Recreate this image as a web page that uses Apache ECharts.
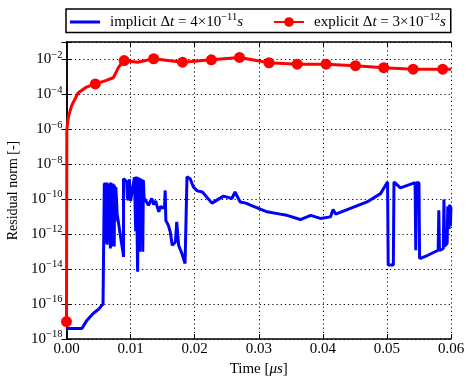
<!DOCTYPE html>
<html><head><meta charset="utf-8">
<script src="https://cdn.jsdelivr.net/npm/echarts@6/dist/echarts.min.js"></script>
<style>html,body{margin:0;padding:0;background:#fff}#c{width:474px;height:387px}</style>
</head><body><div id="c"></div>
<script>
// implicit scheme (dt = 4e-11 s): time [us] and residual norm
const implicitT = [0, 0.0024, 0.0032, 0.0042, 0.0050, 0.0057,
  0.0059, 0.00595, 0.0060, 0.00605, 0.0061, 0.00615, 0.0062, 0.00625, 0.0063, 0.00635,
  0.0064, 0.00645, 0.0065, 0.00655, 0.0066, 0.00665, 0.0067, 0.00675, 0.0068, 0.00685,
  0.0069, 0.00695, 0.0070, 0.00705, 0.0071, 0.00715, 0.0072, 0.00725, 0.0073, 0.00735,
  0.0074, 0.00745, 0.0075, 0.00755, 0.0076, 0.00765, 0.0077,
  0.0079, 0.0085, 0.0088, 0.0089,
  0.0089, 0.0092, 0.0094, 0.0095, 0.0097, 0.0098, 0.0099, 0.0100, 0.0103,
  0.0106, 0.0108, 0.0109, 0.0111, 0.0112, 0.0114, 0.0115, 0.0117, 0.0118, 0.0119, 0.0120, 0.0121,
  0.0123, 0.0128, 0.0133, 0.0136, 0.0139, 0.0141, 0.0144, 0.0147, 0.0150, 0.0153, 0.0154, 0.0155,
  0.0159, 0.0162, 0.0165, 0.0170, 0.0172, 0.0175, 0.0180, 0.0185, 0.0187,
  0.0188, 0.0193, 0.0198, 0.0204, 0.0212, 0.0227, 0.0245, 0.0258, 0.0263, 0.0271, 0.0280, 0.0287,
  0.0313, 0.0329, 0.0344, 0.0365, 0.0381, 0.0396, 0.0412, 0.0416, 0.0420, 0.0443, 0.0469, 0.0490,
  0.0501, 0.0502, 0.0510, 0.0511, 0.0521, 0.0544, 0.0545, 0.0546, 0.0550, 0.0551, 0.0563, 0.0580,
  0.0581, 0.0582, 0.0588, 0.0589, 0.0590, 0.0594, 0.0595, 0.0597, 0.0598, 0.0599, 0.0600];
const implicitV = [4e-18, 4e-18, 1.2e-17, 3e-17, 5e-17, 1e-16,
  8e-10, 3e-13, 9e-10, 2e-12, 7e-10, 6e-13, 8e-10, 1e-12, 9e-10, 2.5e-13,
  7e-10, 1.5e-12, 8e-10, 4e-13, 6e-10, 3e-12, 8e-10, 2e-12, 7e-10, 1.5e-13,
  9e-10, 1e-12, 8e-10, 2e-13, 7e-10, 2e-12, 8e-10, 8e-13, 6e-10, 3e-12,
  7e-10, 2e-13, 6e-10, 5e-12, 5e-10, 1e-11, 5e-10,
  1.5e-11, 5e-13, 1e-13, 5e-14,
  1.5e-9, 1.3e-9, 1e-9, 1.2e-10, 9e-11, 1.4e-9, 1.2e-9, 8e-11, 7e-11,
  1.8e-9, 1.5e-12, 2e-9, 7e-15, 1.8e-9, 1e-13, 1.6e-9, 1e-12, 1.4e-9, 1e-13, 1.2e-9, 1.2e-10,
  1.1e-10, 4.5e-11, 1.1e-10, 5e-11, 8e-11, 7e-11, 1.9e-11, 4e-11, 3e-11, 4e-11, 3.2e-10, 6e-12,
  3.2e-12, 1.3e-12, 2.3e-13, 3.6e-13, 5e-12, 2.3e-13, 8e-14, 2.1e-14, 2.1e-14,
  1.9e-9, 1.5e-9, 5e-10, 3e-10, 2.6e-10, 6e-11, 1.5e-10, 1.1e-10, 2.6e-10, 7e-11, 6e-11, 4.6e-11,
  1.9e-11, 1.5e-11, 1.2e-11, 6.9e-12, 1.2e-11, 8e-12, 9.8e-12, 2.6e-11, 1.4e-11, 3e-11, 7e-11, 2.1e-10,
  9.8e-10, 1.7e-14, 1.7e-14, 9.8e-10, 4.5e-10, 8.9e-10, 1.2e-13, 8.9e-10, 8.9e-10, 4e-14, 6e-14, 1.2e-13,
  2.3e-11, 1.2e-13, 1.5e-13, 9.5e-11, 2e-13, 3e-13, 4e-11, 2e-12, 5e-11, 3e-12, 3.5e-11];

// explicit scheme (dt = 3e-12 s)
const explicitT = [0, 0.00005, 0.0003, 0.0008, 0.0018, 0.0030, 0.0045, 0.0060, 0.0073, 0.0082, 0.0090,
  0.0111, 0.0136, 0.0181, 0.0226, 0.0270, 0.0316, 0.0360, 0.0405, 0.0451, 0.0495, 0.0541, 0.0587, 0.0600];
const explicitV = [1e-17, 1e-6, 5e-6, 2.3e-5, 1.2e-4, 2.5e-4, 4e-4, 6e-4, 9e-4, 4e-3, 8.7e-3,
  7e-3, 1.1e-2, 7e-3, 9.6e-3, 1.3e-2, 6.5e-3, 5.4e-3, 5.4e-3, 4.4e-3, 3.4e-3, 2.8e-3, 2.8e-3, 2.8e-3];
const explicitMarkerT = [0, 0.0045, 0.0090, 0.0136, 0.0181, 0.0226, 0.0270, 0.0316, 0.0360, 0.0405, 0.0451, 0.0495, 0.0541, 0.0587];

const xTickLabels = ['0.00', '0.01', '0.02', '0.03', '0.04', '0.05', '0.06'];
const yTickExponents = [-18, -16, -14, -12, -10, -8, -6, -4, -2];

const FONT = 'Liberation Serif';
const rich = {
  b: {fontFamily: FONT, fontSize: 15, color: '#000', lineHeight: 20},
  i: {fontFamily: FONT, fontSize: 15, fontStyle: 'italic', color: '#000', lineHeight: 20},
  s: {fontFamily: FONT, fontSize: 10.5, color: '#000', lineHeight: 10, verticalAlign: 'top'}
};
const legendText = {
  implicit: '{b|implicit Δ}{i|t}{b| = 4×10}{s|−11}{i|s}',
  explicit: '{b|explicit Δ}{i|t}{b| = 3×10}{s|−12}{i|s}'
};

const chart = echarts.init(document.getElementById('c'), null, {renderer: 'canvas'});
const axisLine = {show: true, lineStyle: {color: '#000', width: 1.5}};
const tick = {show: true, inside: true, length: 5, lineStyle: {color: '#000', width: 1}};
const grid = {type: [1.2, 3], color: '#000', width: 1};

chart.setOption({
  animation: false,
  backgroundColor: '#fff',
  grid: {left: 66.5, right: 23, top: 42, bottom: 48, outerBoundsMode: 'none'},
  legend: {
    left: 66, top: 9,
    padding: [3, 5, 3, 4],
    itemWidth: 30, itemHeight: 12, itemGap: 30,
    borderColor: '#000', borderWidth: 1.5, borderRadius: 0,
    data: [{name: 'implicit', icon: 'path://M0,0H30V3H0Z'}, {name: 'explicit'}],
    formatter: n => legendText[n],
    textStyle: {rich: rich, padding: [0, 0, 0, 5]}
  },
  xAxis: [{
    type: 'value', min: 0, max: 0.06, interval: 0.01,
    axisLine: axisLine, axisTick: tick,
    splitLine: {show: true, lineStyle: grid},
    axisLabel: {margin: 3, formatter: v => xTickLabels[Math.round(v / 0.01)] || '', rich: rich,
      fontFamily: FONT, fontSize: 15, color: '#000'},
    name: '{b|Time [}{i|μs}{b|]}', nameLocation: 'middle', nameGap: 8,
    nameTextStyle: {rich: rich}
  }, {
    type: 'value', min: 0, max: 0.06, interval: 0.01, position: 'top',
    axisLine: axisLine, axisTick: tick, splitLine: {show: false}, axisLabel: {show: false}
  }],
  yAxis: [{
    type: 'log', logBase: 10, min: 1e-18, max: 1e-1, interval: 2,
    axisLine: axisLine, axisTick: tick,
    splitLine: {show: true, lineStyle: grid},
    axisLabel: {margin: 4, rich: rich, formatter: v => {
      const e = Math.round(Math.log10(v));
      return yTickExponents.includes(e) ? '{b|10}{s|−' + (-e) + '}' : '';
    }},
    name: 'Residual norm [-]', nameLocation: 'middle', nameGap: 41,
    nameTextStyle: {fontFamily: FONT, fontSize: 14, color: '#000'}
  }, {
    type: 'log', logBase: 10, min: 1e-18, max: 1e-1, interval: 2, position: 'right',
    axisLine: axisLine, axisTick: tick, splitLine: {show: false}, axisLabel: {show: false}
  }],
  series: [{
    name: 'implicit', type: 'line', xAxisIndex: 0, yAxisIndex: 0,
    data: implicitT.map((t, i) => [t, implicitV[i]]),
    symbol: 'none',
    lineStyle: {color: '#0000ff', width: 3},
    itemStyle: {color: '#0000ff'}
  }, {
    name: 'explicit', type: 'line', xAxisIndex: 0, yAxisIndex: 0,
    data: explicitT.map((t, i) => explicitMarkerT.includes(t)
      ? {value: [t, explicitV[i]]}
      : {value: [t, explicitV[i]], symbol: 'none'}),
    symbol: 'circle', symbolSize: 11, showSymbol: true,
    lineStyle: {color: '#ff0000', width: 3},
    itemStyle: {color: '#ff0000'}
  }]
});
</script></body></html>
